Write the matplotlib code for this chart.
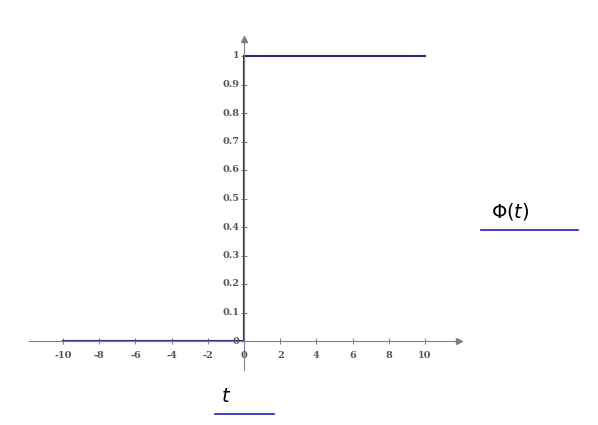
import numpy as np
import matplotlib.pyplot as plt

t = [-10, 0, 0, 10]
phi = [0, 0, 1, 1]
xticks = [-10, -8, -6, -4, -2, 0, 2, 4, 6, 8, 10]
yticks = [0, 0.1, 0.2, 0.3, 0.4, 0.5, 0.6, 0.7, 0.8, 0.9, 1]

fig = plt.figure(figsize=(5.98, 4.25), dpi=100)
ax = fig.add_axes([0, 0, 1, 1])
ax.set_xlim(-244 / 18.1, (598 - 244) / 18.1)
ax.set_ylim(-(425 - 341) / 285, 341 / 285)
ax.patch.set_alpha(0)

ax.plot(t, phi, color='#2a2a7a', lw=1.5, solid_joinstyle='miter')

gray = '#808080'
for s in ['top', 'right']:
    ax.spines[s].set_visible(False)
ax.spines['left'].set_position(('data', 0))
ax.spines['bottom'].set_position(('data', 0))
ax.spines['left'].set_bounds(-0.1, 1.06)
ax.spines['bottom'].set_bounds(-11.9, 11.9)
for s in ['left', 'bottom']:
    ax.spines[s].set_color(gray)
    ax.spines[s].set_linewidth(0.8)
ax.plot(11.9, 0, '>', color=gray, ms=5, clip_on=False)
ax.plot(0, 1.06, '^', color=gray, ms=5, clip_on=False)

ax.set_xticks(xticks)
ax.set_yticks(yticks)
ax.set_xticklabels([])
ax.set_yticklabels([])
ax.tick_params(direction='inout', length=5, color=gray, width=0.8)

font = dict(family='DejaVu Serif', size=7, fontweight='bold', color='#555555')
for v in xticks:
    ax.text(v, -0.035, f"{v}", ha='center', va='top', **font)
for v in yticks:
    ax.text(-0.25, v, f"{v:g}", ha='right', va='center', **font)

fig.text(510 / 598, 1 - 212 / 425, r'$\Phi(t)$', ha='center', va='center', fontsize=14)
fig.add_artist(plt.Line2D([481 / 598, 578 / 598], [1 - 230 / 425] * 2, color='#2020b0', lw=1.2))
fig.text(226 / 598, 1 - 397 / 425, r'$t$', ha='center', va='center', fontsize=14)
fig.add_artist(plt.Line2D([215 / 598, 274 / 598], [1 - 414 / 425] * 2, color='#2020b0', lw=1.2))

fig.savefig('out.png', dpi=100)
